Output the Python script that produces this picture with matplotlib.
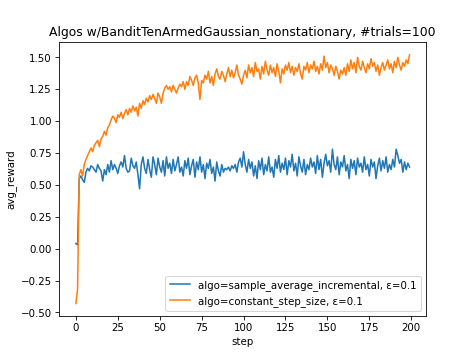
import matplotlib
matplotlib.use("Agg")
import matplotlib.pyplot as plt

title = "Algos w/BanditTenArmedGaussian_nonstationary, #trials=100"
labels = ["algo=sample_average_incremental, \u03b5=0.1", "algo=constant_step_size, \u03b5=0.1"]

sample_avg = [
    0.04, 0.03, 0.55, 0.57, 0.54, 0.52, 0.60, 0.63, 0.61, 0.65,
    0.64, 0.62, 0.60, 0.66, 0.63, 0.61, 0.53, 0.62, 0.58, 0.66,
    0.60, 0.69, 0.62, 0.66, 0.63, 0.59, 0.65, 0.68, 0.64, 0.73,
    0.63, 0.60, 0.61, 0.71, 0.65, 0.63, 0.68, 0.58, 0.47, 0.66,
    0.72, 0.63, 0.59, 0.70, 0.62, 0.56, 0.72, 0.66, 0.58, 0.71,
    0.64, 0.60, 0.69, 0.57, 0.72, 0.63, 0.67, 0.59, 0.70, 0.61,
    0.66, 0.72, 0.60, 0.64, 0.57, 0.69, 0.63, 0.71, 0.58, 0.65,
    0.70, 0.56, 0.68, 0.62, 0.72, 0.60, 0.66, 0.55, 0.67, 0.63,
    0.70, 0.59, 0.64, 0.53, 0.68, 0.61, 0.57, 0.66, 0.60, 0.63,
    0.62, 0.64, 0.61, 0.65, 0.63, 0.66, 0.60, 0.68, 0.71, 0.64,
    0.76, 0.66, 0.60, 0.70, 0.63, 0.68, 0.57, 0.65, 0.55, 0.69,
    0.62, 0.71, 0.58, 0.66, 0.61, 0.72, 0.60, 0.64, 0.56, 0.70,
    0.63, 0.73, 0.60, 0.67, 0.62, 0.71, 0.58, 0.69, 0.64, 0.74,
    0.61, 0.67, 0.57, 0.72, 0.65, 0.60, 0.70, 0.58, 0.66, 0.62,
    0.71, 0.64, 0.68, 0.59, 0.73, 0.62, 0.70, 0.56, 0.67, 0.74,
    0.65, 0.69, 0.60, 0.78, 0.66, 0.62, 0.72, 0.58, 0.68, 0.64,
    0.73, 0.61, 0.66, 0.55, 0.70, 0.63, 0.69, 0.58, 0.71, 0.64,
    0.67, 0.60, 0.72, 0.62, 0.66, 0.57, 0.70, 0.64, 0.68, 0.55,
    0.65, 0.71, 0.61, 0.69, 0.63, 0.72, 0.60, 0.66, 0.62, 0.70,
    0.64, 0.78, 0.73, 0.67, 0.70, 0.60, 0.68, 0.62, 0.67, 0.64,
]

const_step = [
    -0.43, -0.32, 0.58, 0.62, 0.57, 0.66, 0.70, 0.73, 0.76, 0.79,
    0.76, 0.81, 0.83, 0.85, 0.80, 0.86, 0.88, 0.92, 0.89, 0.95,
    0.97, 1.01, 1.04, 1.02, 0.99, 1.05, 1.03, 1.07, 1.02, 1.06,
    1.09, 1.05, 1.10, 1.07, 1.12, 1.08, 1.11, 1.04, 1.14, 1.10,
    1.16, 1.13, 1.18, 1.15, 1.20, 1.17, 1.21, 1.18, 1.14, 1.22,
    1.19, 1.14, 1.22, 1.26, 1.28, 1.25, 1.27, 1.23, 1.28, 1.25,
    1.22, 1.26, 1.29, 1.27, 1.31, 1.25, 1.31, 1.28, 1.35, 1.32,
    1.28, 1.34, 1.36, 1.30, 1.17, 1.32, 1.30, 1.36, 1.33, 1.39,
    1.30, 1.35, 1.28, 1.37, 1.41, 1.35, 1.33, 1.39, 1.36, 1.31,
    1.37, 1.42, 1.35, 1.40, 1.34, 1.38, 1.44, 1.36, 1.33, 1.29,
    1.36, 1.40, 1.34, 1.44, 1.38, 1.42, 1.35, 1.46, 1.39, 1.41,
    1.33, 1.43, 1.37, 1.47, 1.40, 1.36, 1.44, 1.38, 1.42, 1.35,
    1.45, 1.39, 1.30, 1.41, 1.37, 1.44, 1.40, 1.46, 1.38, 1.43,
    1.36, 1.42, 1.39, 1.45, 1.37, 1.33, 1.43, 1.40, 1.46, 1.38,
    1.44, 1.41, 1.47, 1.39, 1.43, 1.37, 1.45, 1.40, 1.51, 1.42,
    1.46, 1.38, 1.44, 1.41, 1.36, 1.43, 1.39, 1.33, 1.40, 1.37,
    1.42, 1.36, 1.45, 1.39, 1.48, 1.41, 1.46, 1.38, 1.50, 1.43,
    1.40, 1.47, 1.42, 1.38, 1.45, 1.41, 1.49, 1.43, 1.46, 1.39,
    1.44, 1.36, 1.42, 1.46, 1.40, 1.44, 1.48, 1.41, 1.45, 1.38,
    1.47, 1.42, 1.50, 1.44, 1.40, 1.46, 1.43, 1.48, 1.45, 1.52,
]

steps = list(range(len(sample_avg)))

fig, ax = plt.subplots(figsize=(6.4, 4.8), dpi=74)
ax.plot(steps, sample_avg, label=labels[0])
ax.plot(steps, const_step, label=labels[1])
ax.set_title(title)
ax.set_xlabel("step")
ax.set_ylabel("avg_reward")
ax.set_xticks([0, 25, 50, 75, 100, 125, 150, 175, 200])
ax.legend(loc="lower right")
fig.savefig("out.png", dpi=74)
